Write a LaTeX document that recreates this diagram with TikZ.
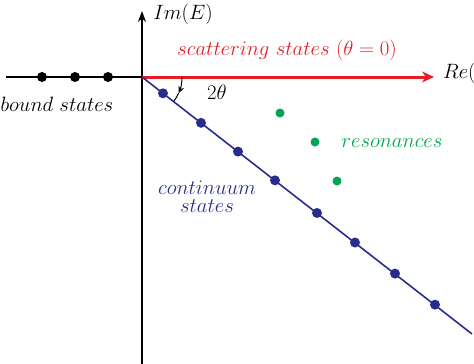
\documentclass[tikz,border=0pt]{standalone}
\usetikzlibrary{arrows.meta}
\definecolor{myred}{RGB}{228,30,40}
\definecolor{myblue}{RGB}{40,44,140}
\definecolor{mygreen}{RGB}{0,166,81}
\begin{document}
\begin{tikzpicture}[x=1pt,y=-1pt,
  bdot/.style={circle,fill=black,inner sep=0pt,minimum size=10pt},
  cdot/.style={circle,fill=myblue,inner sep=0pt,minimum size=10pt},
  rdot/.style={circle,fill=mygreen,inner sep=0pt,minimum size=9pt},
  lbl/.style={inner sep=0pt,font=\fontsize{21}{25}\selectfont}]
\useasboundingbox (0,0) rectangle (474,364);
\coordinate (O) at (142,77);
\coordinate (left) at (6,77);
\coordinate (bot) at (142,364);
\coordinate (top) at (142,11);
\coordinate (reend) at (434,77);
\coordinate (cend) at (472,334);
% axes
\draw[line width=1.6pt] (left) -- (O);
\draw[line width=1.6pt,-{Stealth[length=11pt,width=8pt]}] (bot) -- (top);
\draw[myred,line width=3pt,-{Stealth[length=12pt,width=11pt]}] (O) -- (reend);
\draw[myblue,line width=1.6pt] (O) -- (cend);
% bound states
\foreach \x [count=\i] in {42,75,108} \node[bdot] (b\i) at (\x,77) {};
% continuum dots
\foreach \x [count=\i] in {163,201,238,275,317,355,395,435}
  \node[cdot] (c\i) at (\x,{77+0.777*(\x-142)}) {};
% resonances
\node[rdot] (r1) at (280,113) {};
\node[rdot] (r2) at (315,142) {};
\node[rdot] (r3) at (337,181) {};
% angle arc
\draw[line width=1pt,-{Stealth[length=7pt,width=6pt]}] ([shift={(0:40)}]O) arc[start angle=0,end angle=24,radius=40];
\draw[line width=1pt] ([shift={(24:40)}]O) arc[start angle=24,end angle=37.8,radius=40];
% labels
\node[lbl] (im) at (183,14) {$Im(E)$};
\node[lbl,anchor=west] (re) at (443,73) {$Re(E)$};
\node[lbl,text=myred] (sc) at (287,50) {$scattering\ states\ (\theta=0)$};
\node[lbl] (th) at (217,92) {$2\theta$};
\node[lbl] (bs) at (57,104) {$bound\ states$};
\node[lbl,text=mygreen] (res) at (392,143) {$resonances$};
\node[lbl,text=myblue,align=center,font=\fontsize{21}{18}\selectfont] (cs) at (207,197) {$continuum$\\$states$};
\end{tikzpicture}
\end{document}
